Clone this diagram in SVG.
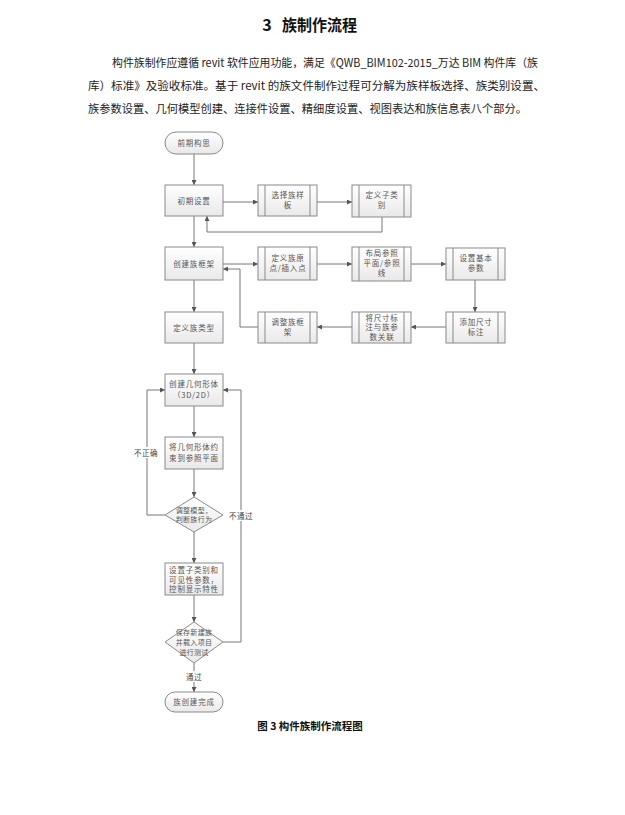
<svg xmlns="http://www.w3.org/2000/svg" width="625" height="815" viewBox="0 0 625 815">
<defs>
<linearGradient id="g" x1="0" y1="0" x2="0" y2="1">
<stop offset="0" stop-color="#ffffff"/>
<stop offset="1" stop-color="#e9e9e9"/>
</linearGradient>
<marker id="ah" viewBox="0 0 10 10" refX="10" refY="5" markerWidth="5" markerHeight="5" orient="auto" markerUnits="userSpaceOnUse">
<path d="M0,0 L10,5 L0,10 z" fill="#555"/>
</marker>
</defs>
<style>
.box{fill:url(#g);stroke:#8a8a8a;stroke-width:1}
.in{stroke:#8a8a8a;stroke-width:1}
.t{font-family:"Noto Sans CJK SC","Noto Sans",sans-serif;font-size:7.5px;fill:#555;text-anchor:middle;letter-spacing:0.8px}
.d{font-family:"Noto Sans CJK SC","Noto Sans",sans-serif;font-size:7px;fill:#555;text-anchor:middle;letter-spacing:0.3px}
.c{fill:none;stroke:#777;stroke-width:1;marker-end:url(#ah)}
.lb{font-family:"Noto Sans CJK SC","Noto Sans",sans-serif;font-size:7.5px;fill:#444;text-anchor:middle;letter-spacing:0.5px}
.body{font-family:"Noto Sans CJK SC","Noto Sans",sans-serif;font-size:11.3px;fill:#222}
.hd{font-family:"Noto Sans CJK SC",sans-serif;font-size:16px;font-weight:bold;fill:#111}
</style>
<rect width="625" height="815" fill="#fff"/>
<text class="hd" x="267" y="31" text-anchor="middle">3</text>
<text class="hd" x="282" y="31" textLength="75" lengthAdjust="spacingAndGlyphs">族制作流程</text>
<text class="body" x="112" y="67" textLength="426" lengthAdjust="spacingAndGlyphs">构件族制作应遵循 revit 软件应用功能，满足《QWB_BIM102-2015_万达 BIM 构件库（族</text>
<text class="body" x="88" y="90" textLength="457" lengthAdjust="spacingAndGlyphs">库）标准》及验收标准。基于 revit 的族文件制作过程可分解为族样板选择、族类别设置、</text>
<text class="body" x="88" y="113" textLength="439" lengthAdjust="spacingAndGlyphs">族参数设置、几何模型创建、连接件设置、精细度设置、视图表达和族信息表八个部分。</text>

<g id="connectors">
<path class="c" d="M194,154 V185"/>
<path class="c" d="M223,202 H258"/>
<path class="c" d="M317,202 H352"/>
<path class="c" d="M382,217 V232 H207 V216"/>
<path class="c" d="M194,216 V247"/>
<path class="c" d="M223,264 H258"/>
<path class="c" d="M317,264 H352"/>
<path class="c" d="M411,264 H446"/>
<path class="c" d="M475,280 V312"/>
<path class="c" d="M446,327 H411"/>
<path class="c" d="M352,327 H317"/>
<path class="c" d="M258,327 H240 V269 H223"/>
<path class="c" d="M194,280 V312"/>
<path class="c" d="M194,343 V374"/>
<path class="c" d="M194,406 V437"/>
<path class="c" d="M194,469 V497"/>
<path class="c" d="M165,515 H147 V390 H165"/>
<path class="c" d="M194,532 V563"/>
<path class="c" d="M194,595 V622"/>
<path class="c" d="M223,642 H241 V390 H223"/>
<path class="c" d="M194,663 V692"/>
<rect x="133" y="447" width="26" height="11" fill="#fff"/>
<text class="lb" x="146" y="455.5">不正确</text>
<rect x="228" y="510" width="26" height="11" fill="#fff"/>
<text class="lb" x="241" y="518.5">不通过</text>
<rect x="184" y="671" width="20" height="11" fill="#fff"/>
<text class="lb" x="194" y="679.5">通过</text>
</g>

<g id="n_qiqi"><rect class="box" x="165" y="132" width="58" height="22" rx="11"/><text class="t" x="194" y="145.5">前期构思</text></g>
<g id="n_chuqi"><rect class="box" x="165" y="185" width="58" height="31"/><text class="t" x="194" y="203.5">初期设置</text></g>
<g id="n_xuanze"><rect class="box" x="258" y="185" width="59" height="31"/><line class="in" x1="265" y1="185" x2="265" y2="216"/><line class="in" x1="310" y1="185" x2="310" y2="216"/><text class="t" x="288" y="198">选择族样</text><text class="t" x="288" y="208">板</text></g>
<g id="n_zilei"><rect class="box" x="352" y="185" width="59" height="32"/><line class="in" x1="359" y1="185" x2="359" y2="217"/><line class="in" x1="404" y1="185" x2="404" y2="217"/><text class="t" x="382" y="198">定义子类</text><text class="t" x="382" y="208">别</text></g>
<g id="n_kuangjia"><rect class="box" x="165" y="247" width="58" height="33"/><text class="t" x="194" y="266.5">创建族框架</text></g>
<g id="n_yuandian"><rect class="box" x="258" y="247" width="59" height="33"/><line class="in" x1="265" y1="247" x2="265" y2="280"/><line class="in" x1="310" y1="247" x2="310" y2="280"/><text class="t" x="288" y="261">定义族原</text><text class="t" x="288" y="271">点/插入点</text></g>
<g id="n_buju"><rect class="box" x="352" y="247" width="59" height="34"/><line class="in" x1="359" y1="247" x2="359" y2="281"/><line class="in" x1="404" y1="247" x2="404" y2="281"/><text class="t" x="382" y="256">布局参照</text><text class="t" x="382" y="266">平面/参照</text><text class="t" x="382" y="276">线</text></g>
<g id="n_jiben"><rect class="box" x="446" y="248" width="59" height="32"/><line class="in" x1="453" y1="248" x2="453" y2="280"/><line class="in" x1="498" y1="248" x2="498" y2="280"/><text class="t" x="476" y="261">设置基本</text><text class="t" x="476" y="271">参数</text></g>
<g id="n_tianjia"><rect class="box" x="446" y="312" width="59" height="31"/><line class="in" x1="453" y1="312" x2="453" y2="343"/><line class="in" x1="498" y1="312" x2="498" y2="343"/><text class="t" x="476" y="325">添加尺寸</text><text class="t" x="476" y="335">标注</text></g>
<g id="n_guanlian"><rect class="box" x="352" y="312" width="59" height="31"/><line class="in" x1="359" y1="312" x2="359" y2="343"/><line class="in" x1="404" y1="312" x2="404" y2="343"/><text class="t" x="382" y="320.5">将尺寸标</text><text class="t" x="382" y="330">注与族参</text><text class="t" x="382" y="339.5">数关联</text></g>
<g id="n_tiaozheng"><rect class="box" x="258" y="312" width="59" height="31"/><line class="in" x1="265" y1="312" x2="265" y2="343"/><line class="in" x1="310" y1="312" x2="310" y2="343"/><text class="t" x="288" y="325">调整族框</text><text class="t" x="288" y="335">架</text></g>
<g id="n_leixing"><rect class="box" x="165" y="312" width="58" height="31"/><text class="t" x="194" y="330.5">定义族类型</text></g>
<g id="n_xingti"><rect class="box" x="165" y="374" width="58" height="32"/><text class="t" x="194" y="387">创建几何形体</text><text class="t" x="194" y="398">（3D/2D）</text></g>
<g id="n_yueshu"><rect class="box" x="165" y="437" width="58" height="32"/><text class="t" x="194" y="450">将几何形体约</text><text class="t" x="194" y="461">束到参照平面</text></g>
<g id="n_panduan"><path class="box" d="M194,497 L223,515 L194,532 L165,515 Z"/><text class="d" x="194" y="512.5">调整模型，</text><text class="d" x="194" y="522">判断族行为</text></g>
<g id="n_zileibie"><rect class="box" x="165" y="563" width="58" height="32"/><text class="t" x="194" y="573">设置子类别和</text><text class="t" x="194" y="582.5">可见性参数，</text><text class="t" x="194" y="592">控制显示特性</text></g>
<g id="n_ceshi"><path class="box" d="M194,622 L223,642 L194,663 L165,642 Z"/><text class="d" x="194" y="634.5">保存新建族</text><text class="d" x="194" y="644.5">并载入项目</text><text class="d" x="194" y="654.5">进行测试</text></g>
<g id="n_wancheng"><rect class="box" x="165" y="692" width="58" height="20" rx="10"/><text class="t" x="194" y="704.5">族创建完成</text></g>

<text class="hd" x="310" y="730" text-anchor="middle" style="font-size:10.5px">图 3 构件族制作流程图</text>
</svg>
